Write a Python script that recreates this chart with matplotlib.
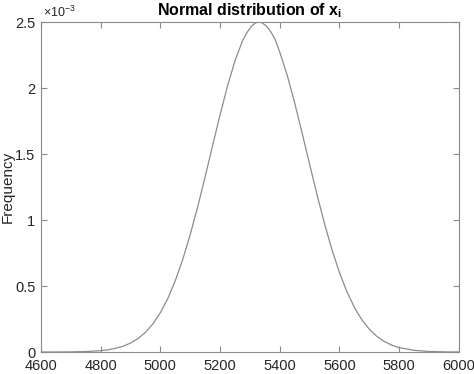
import matplotlib
matplotlib.use("Agg")
import matplotlib.pyplot as plt
from matplotlib.ticker import FuncFormatter

# === Values (x in units, freq in 1e-3) ===
x_vals = [4600, 4650, 4700, 4750, 4800, 4825, 4850, 4875, 4900, 4925,
          4950, 4975, 5000, 5025, 5050, 5075, 5100, 5125, 5150, 5175,
          5200, 5225, 5250, 5275, 5290, 5305, 5320, 5330, 5340, 5355,
          5370, 5385, 5400, 5425,
          5450, 5475, 5500, 5525, 5550, 5575, 5600, 5625, 5650, 5675,
          5700, 5725, 5750, 5775, 5800, 5850, 5900, 5950, 6000]
freq_vals = [0.000, 0.0003, 0.0011, 0.0035, 0.0103, 0.017, 0.028, 0.044, 0.068, 0.102,
             0.149, 0.213, 0.298, 0.406, 0.541, 0.702, 0.890, 1.100, 1.328, 1.564,
             1.797, 2.016, 2.206, 2.357, 2.420, 2.468, 2.495, 2.500, 2.495, 2.470,
             2.427, 2.365, 2.272, 2.096,
             1.887, 1.658, 1.422, 1.190, 0.972, 0.774, 0.602, 0.457, 0.338, 0.244,
             0.173, 0.119, 0.080, 0.052, 0.033, 0.013, 0.004, 0.001, 0.000]
x_ticks = [4600, 4800, 5000, 5200, 5400, 5600, 5800, 6000]
y_ticks = [0, 0.5, 1, 1.5, 2, 2.5]

plt.rcParams["font.family"] = ["Liberation Sans", "DejaVu Sans"]
plt.rcParams["mathtext.fontset"] = "custom"
plt.rcParams["mathtext.rm"] = "Liberation Sans"
plt.rcParams["mathtext.bf"] = "Liberation Sans:bold"

fig = plt.figure(figsize=(4.74, 3.74), dpi=100)
ax = fig.add_axes([0.0865, 0.0588, 0.8815, 0.8823])

ax.plot(x_vals, freq_vals, color="#8c8c8c", linewidth=0.9)

ax.set_xlim(4600, 6000)
ax.set_ylim(0, 2.5)
ax.set_xticks(x_ticks)
ax.set_yticks(y_ticks)
ax.yaxis.set_major_formatter(FuncFormatter(lambda v, p: "%g" % v))

edge = "#8a8a8a"
for s in ax.spines.values():
    s.set_color(edge)
    s.set_linewidth(0.8)
ax.tick_params(direction="in", top=True, right=True, length=4, width=0.8,
               color=edge, labelsize=10.5, labelcolor="#262626")
ax.tick_params(axis="x", pad=5)
ax.tick_params(axis="y", pad=4)

ax.text(0.005, 1.005, r"$\times$10$^{-3}$", transform=ax.transAxes,
        fontsize=9, color="#262626", ha="left", va="bottom")
ax.set_ylabel("Frequency", fontsize=11, color="#262626")
ax.yaxis.set_label_coords(-0.062, 0.5)
ax.set_title(r"Normal distribution of x$_{\mathbf{i}}$", fontsize=11.5,
             fontweight="bold", color="black", pad=5)

fig.savefig("out.png", dpi=100)
